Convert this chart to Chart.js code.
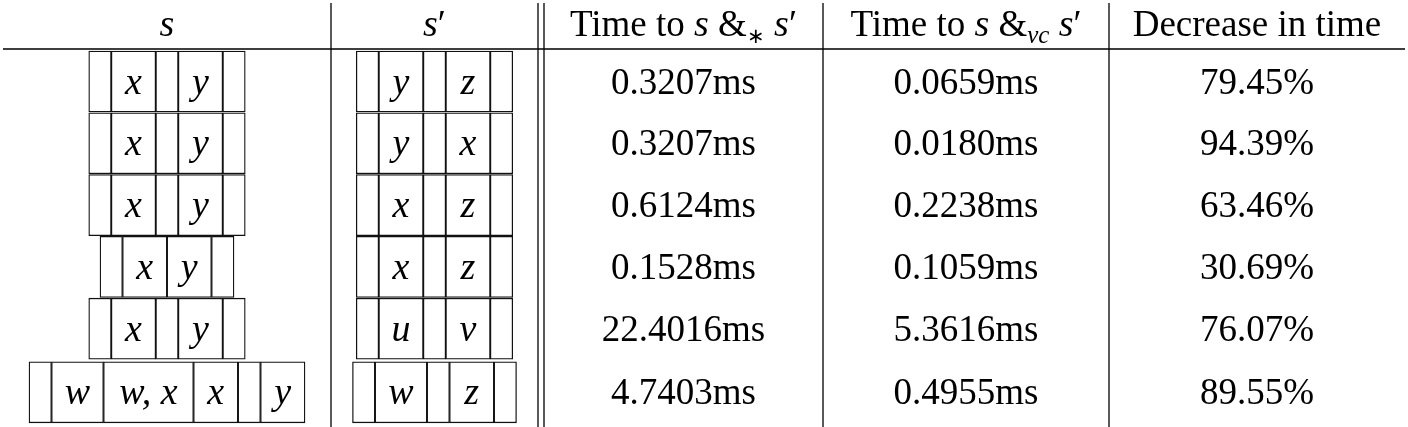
<!DOCTYPE html>
<html>
<head>
<meta charset="utf-8">
<script src="https://cdn.jsdelivr.net/npm/chart.js@4.4.1/dist/chart.umd.min.js"></script>
<style>
html, body { margin: 0; padding: 0; background: #fff; }
canvas { display: block; }
</style>
</head>
<body>
<canvas id="tbl" width="1408" height="427"></canvas>
<script>
// column headers (f: font key, dy: subscript shift)
const headers = [
  [{t: 's', f: 'it'}],
  [{t: 's', f: 'it'}, {t: '′'}],
  [{t: 'Time to '}, {t: 's', f: 'it'}, {t: ' &'}, {t: '∗', f: 'sub', dy: 7}, {t: ' '}, {t: 's', f: 'it'}, {t: '′'}],
  [{t: 'Time to '}, {t: 's', f: 'it'}, {t: ' &'}, {t: 'vc', f: 'subit', dy: 7}, {t: ' '}, {t: 's', f: 'it'}, {t: '′'}],
  [{t: 'Decrease in time'}]
];

// tape contents, '' = empty cell
const tapeS = [
  ['', 'x', '', 'y', ''],
  ['', 'x', '', 'y', ''],
  ['', 'x', '', 'y', ''],
  ['', 'x', 'y', ''],
  ['', 'x', '', 'y', ''],
  ['', 'w', 'w, x', 'x', '', 'y']
];
const tapeS2 = [
  ['', 'y', '', 'z', ''],
  ['', 'y', '', 'x', ''],
  ['', 'x', '', 'z', ''],
  ['', 'x', '', 'z', ''],
  ['', 'u', '', 'v', ''],
  ['', 'w', '', 'z', '']
];

// timings (ms) and decrease (%)
const timeStar = [0.3207, 0.3207, 0.6124, 0.1528, 22.4016, 4.7403];
const timeVc   = [0.0659, 0.0180, 0.2238, 0.1059, 5.3616, 0.4955];
const decrease = [79.45, 94.39, 63.46, 30.69, 76.07, 89.55];

// layout
const W = 1408, H = 427;
const colCenter = [167, 434.5, 683.5, 966, 1257];
const vRules = [331, 538, 544, 823, 1109];
const hRule = 49;
const headBase = 36;
const rowCenter = [81.5, 143.3, 205.1, 266.9, 328.7, 392.3];
const rowHeight = 61;
const textDrop = 12;

function cellW(t) {
  if (t === '') return 22.5;
  if (t === 'w') return 52;
  if (t === 'w, x') return 90;
  return 44.5;
}

const fonts = {
  rm: '37px "Liberation Serif", "Times New Roman", serif',
  it: 'italic 38px "Liberation Serif", "Times New Roman", serif',
  sub: '21px "Liberation Serif", "Times New Roman", serif',
  subit: 'italic 25px "Liberation Serif", "Times New Roman", serif'
};

function drawRich(ctx, segs, cx, base) {
  let total = 0;
  const w = segs.map(s => {
    ctx.font = fonts[s.f || 'rm'];
    const m = ctx.measureText(s.t).width;
    total += m;
    return m;
  });
  let xx = cx - total / 2;
  ctx.textAlign = 'left';
  ctx.textBaseline = 'alphabetic';
  segs.forEach((s, i) => {
    ctx.font = fonts[s.f || 'rm'];
    ctx.fillText(s.t, xx, base + (s.dy || 0));
    xx += w[i];
  });
}

function tapeBars(tapes, cx) {
  const out = [];
  tapes.forEach((row, r) => {
    const total = row.reduce((a, t) => a + cellW(t), 0);
    let x = cx - total / 2;
    row.forEach(t => {
      out.push({x: [x, x + cellW(t)], y: rowCenter[r], label: t});
      x += cellW(t);
    });
  });
  return out;
}

const tablePlugin = {
  id: 'table',
  afterDatasetsDraw(chart) {
    const {ctx, scales: {x, y}} = chart;
    const px = v => x.getPixelForValue(v);
    const py = v => y.getPixelForValue(v);
    ctx.save();
    ctx.strokeStyle = '#000';
    ctx.lineWidth = 1.3;
    ctx.beginPath();
    ctx.moveTo(px(3), py(hRule));
    ctx.lineTo(px(1405), py(hRule));
    vRules.forEach(v => {
      ctx.moveTo(px(v), py(3));
      ctx.lineTo(px(v), py(H));
    });
    ctx.stroke();

    ctx.fillStyle = '#000';
    headers.forEach((segs, i) => drawRich(ctx, segs, px(colCenter[i]), py(headBase)));

    // letters inside tape cells
    chart.data.datasets.forEach((ds, d) => {
      chart.getDatasetMeta(d).data.forEach((bar, i) => {
        const t = ds.data[i].label;
        if (!t) return;
        const p = bar.getProps(['x', 'y', 'base'], true);
        drawRich(ctx, [{t: t, f: 'it'}], (p.x + p.base) / 2, p.y + textDrop);
      });
    });

    // timing columns
    rowCenter.forEach((rc, r) => {
      const base = py(rc + textDrop);
      drawRich(ctx, [{t: timeStar[r].toFixed(4) + 'ms'}], px(colCenter[2]), base);
      drawRich(ctx, [{t: timeVc[r].toFixed(4) + 'ms'}], px(colCenter[3]), base);
      drawRich(ctx, [{t: decrease[r].toFixed(2) + '%'}], px(colCenter[4]), base);
    });
    ctx.restore();
  }
};

const cellStyle = {
  backgroundColor: '#fff',
  borderColor: '#111',
  borderWidth: 1.3,
  borderSkipped: false,
  barThickness: rowHeight,
  grouped: false
};

new Chart(document.getElementById('tbl'), {
  type: 'bar',
  data: {
    datasets: [
      Object.assign({label: 's', data: tapeBars(tapeS, colCenter[0])}, cellStyle),
      Object.assign({label: 's′', data: tapeBars(tapeS2, colCenter[1])}, cellStyle)
    ]
  },
  options: {
    indexAxis: 'y',
    responsive: false,
    animation: false,
    devicePixelRatio: 1,
    layout: { padding: 0 },
    plugins: {
      legend: { display: false },
      tooltip: { enabled: false }
    },
    scales: {
      x: { type: 'linear', min: 0, max: W, display: false },
      y: { type: 'linear', min: 0, max: H, reverse: true, offset: false, display: false }
    }
  },
  plugins: [tablePlugin]
});
</script>
</body>
</html>
